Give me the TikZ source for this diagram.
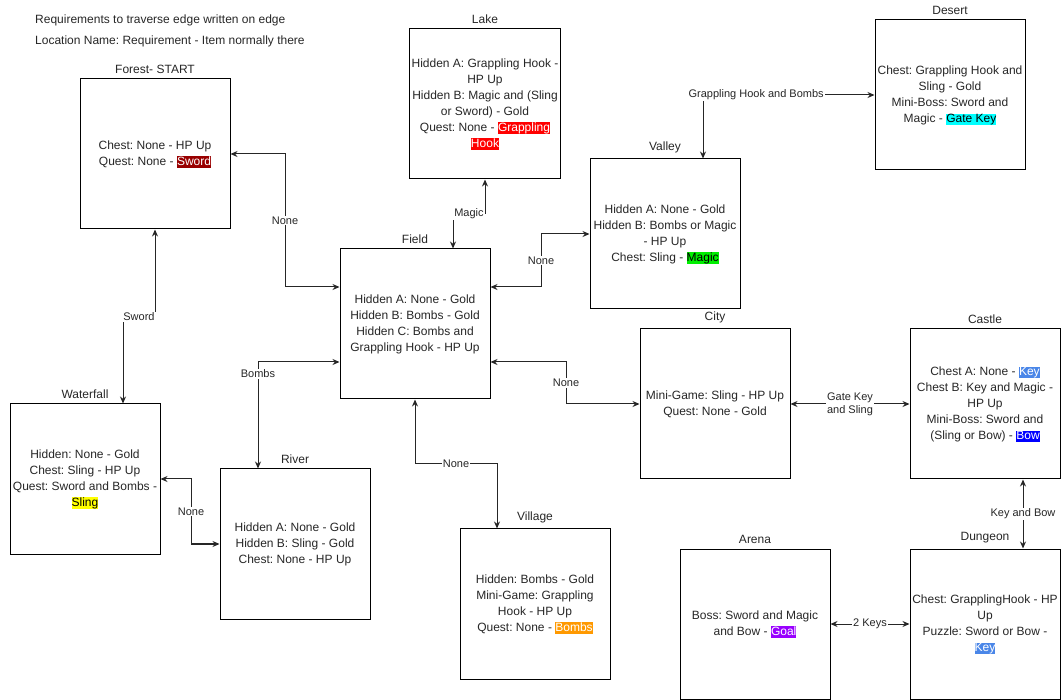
\documentclass[tikz,border=0pt]{standalone}
\usepackage{fontspec}
\setmainfont{Liberation Sans}
\usetikzlibrary{positioning,arrows.meta}
\frenchspacing

\definecolor{txt}{HTML}{262626}
\definecolor{swordred}{HTML}{990000}
\definecolor{hookred}{HTML}{FF0000}
\definecolor{magicgreen}{HTML}{00EE00}
\definecolor{gatecyan}{HTML}{00FFFF}
\definecolor{slingyellow}{HTML}{FFFF00}
\definecolor{bombsorange}{HTML}{FF9900}
\definecolor{keyblue}{HTML}{4A86E8}
\definecolor{bowblue}{HTML}{0000FF}
\definecolor{goalpurple}{HTML}{9900FF}

% highlighted item name: {background}{text colour}{item}
\newcommand{\itemhl}[3]{{\setlength{\fboxsep}{0pt}\colorbox{#1}{\rule[-2.5pt]{0pt}{11pt}\textcolor{#2}{#3}}}}

\begin{document}
\begin{tikzpicture}[
    x=1pt, y=-1pt,
    place/.style     = {rectangle, draw=black, line width=1pt, minimum width=150pt, minimum height=150pt,
                        inner sep=2pt, align=center, text=txt, font=\fontsize{12pt}{16pt}\selectfont},
    placename/.style = {text=txt, font=\fontsize{12pt}{14pt}\selectfont},
    link/.style      = {{Stealth[length=7pt,width=6pt]}-{Stealth[length=7pt,width=6pt]}, line width=1pt, draw=black!85},
    req/.style       = {font=\fontsize{11pt}{13pt}\selectfont, fill=white, inner sep=1pt, text=txt, align=center},
    every label/.style = {placename, label distance=1.5pt},
]
\useasboundingbox (0,0) rectangle (1061,700);

% --- header notes ---
\node[anchor=west, inner sep=0pt, placename] (note1) at (35,20) {Requirements to traverse edge written on edge};
\node[anchor=west, inner sep=0pt, placename] (note2) at (35,41) {Location Name: Requirement - Item normally there};

% --- locations ---
\node[place, label=above:{Forest- START}] (forest) at (155,154)
    {Chest: None - HP Up\\Quest: None - \itemhl{swordred}{white}{Sword}};
\node[place, label=above:Lake] (lake) at (485,104)
    {Hidden A: Grappling Hook -\\HP Up\\Hidden B: Magic and (Sling\\or Sword) - Gold\\Quest: None - \itemhl{hookred}{white}{Grappling}\\\itemhl{hookred}{white}{Hook}};
\node[place, label=above:Desert] (desert) at (950,95)
    {Chest: Grappling Hook and\\Sling - Gold\\Mini-Boss: Sword and\\Magic - \itemhl{gatecyan}{black}{Gate Key}};
\node[place, label=above:Valley] (valley) at (665,234)
    {Hidden A: None - Gold\\Hidden B: Bombs or Magic\\- HP Up\\Chest: Sling - \itemhl{magicgreen}{black}{Magic}};
\node[place, label=above:Field] (field) at (415,324)
    {Hidden A: None - Gold\\Hidden B: Bombs - Gold\\Hidden C: Bombs and\\Grappling Hook - HP Up};
\node[place, label=above:City] (city) at (715,404)
    {Mini-Game: Sling - HP Up\\Quest: None - Gold};
\node[place, label=above:Castle] (castle) at (985,404)
    {Chest A: None - \itemhl{keyblue}{white}{Key}\\Chest B: Key and Magic -\\HP Up\\Mini-Boss: Sword and\\(Sling or Bow) - \itemhl{bowblue}{white}{Bow}};
\node[place, label=above:Waterfall] (waterfall) at (85,479)
    {Hidden: None - Gold\\Chest: Sling - HP Up\\Quest: Sword and Bombs -\\\itemhl{slingyellow}{black}{Sling}};
\node[place, label=above:River] (river) at (295,544)
    {Hidden A: None - Gold\\Hidden B: Sling - Gold\\Chest: None - HP Up};
\node[place, label=above:Village] (village) at (535,604)
    {Hidden: Bombs - Gold\\Mini-Game: Grappling\\Hook - HP Up\\Quest: None - \itemhl{bombsorange}{white}{Bombs}};
\node[place, label=above:Arena] (arena) at (755,624)
    {Boss: Sword and Magic\\and Bow - \itemhl{goalpurple}{white}{Goal}};
\node[place, label=above:Dungeon] (dungeon) at (985,624)
    {Chest: GrapplingHook - HP\\Up\\Puzzle: Sword or Bow -\\\itemhl{keyblue}{white}{Key}};

% --- connections (requirement on edge) ---
\draw[link] (forest.east) -- (285,154) -- node[req] {None} (285,287) -- (field.west |- 0,287);
\draw[link] (forest.south) -- (155,317) -- node[req] {Sword} (123,317) -- (waterfall.north -| 123,0);
\draw[link] (lake.south) -- (485,214) -- node[req] {Magic} (453,214) -- (field.north -| 453,0);
\draw[link] (valley.west) -- (541,234) -- node[req] {None} (541,287) -- (field.east |- 0,287);
\draw[link] (valley.north -| 703,0) -- (703,95) -- node[req, pos=0.31] {Grappling Hook and Bombs} (desert.west);
\draw[link] (field.east |- 0,362) -- (566,362) -- node[req] {None} (566,404) -- (city.west);
\draw[link] (field.west |- 0,362) -- (258,362) -- node[req, pos=0.11] {Bombs} (river.north -| 258,0);
\draw[link] (field.south) -- (415,464) -- node[req] {None} (497,464) -- (village.north -| 497,0);
\draw[link] (waterfall.east) -- (191,479) -- node[req] {None} (191,544) -- (river.west);
\draw[link] (city.east) -- node[req] {Gate Key\\and Sling} (castle.west);
\draw[link] (castle.south -| 1023,0) -- node[req] {Key and Bow} (dungeon.north -| 1023,0);
\draw[link] (arena.east) -- node[req] {2 Keys} (dungeon.west);

\end{tikzpicture}
\end{document}
